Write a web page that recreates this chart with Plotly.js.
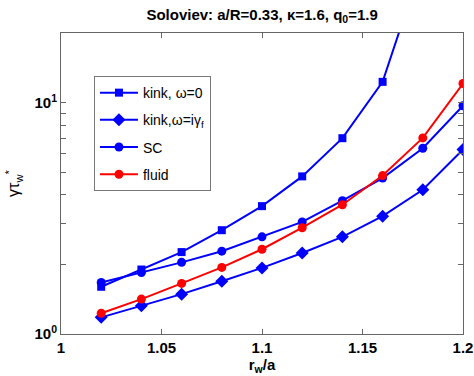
<!DOCTYPE html>
<html>
<head>
<meta charset="utf-8">
<script src="https://cdn.plot.ly/plotly-3.0.1.min.js"></script>
<style>html,body{margin:0;padding:0;background:#fff;}#chart{width:474px;height:376px;}</style>
</head>
<body>
<div id="chart"></div>
<script>
const rw = [1.02, 1.04, 1.06, 1.08, 1.10, 1.12, 1.14, 1.16, 1.18, 1.20];
const kinkW0 = [1.60, 1.90, 2.26, 2.81, 3.57, 4.80, 7.02, 12.3, 41];
const kinkWf = [1.18, 1.325, 1.487, 1.69, 1.93, 2.24, 2.63, 3.23, 4.20, 6.27];
const sc = [1.67, 1.845, 2.04, 2.28, 2.63, 3.05, 3.77, 4.72, 6.35, 9.70];
const fluid = [1.23, 1.415, 1.654, 1.94, 2.325, 2.88, 3.62, 4.84, 7.04, 12.1];
const xTicks = [1, 1.05, 1.1, 1.15, 1.2];
const xTickText = ['1', '1.05', '1.1', '1.15', '1.2'];
const yTicks = [1, 2, 3, 4, 5, 6, 7, 8, 9, 10, 20];
const yTickText = ['10<sup>0</sup>', '', '', '', '', '', '', '', '', '10<sup>1</sup>', ''];

const blue = '#0000ff', red = '#ff0000';
const F = 'Liberation Sans, Arial, Helvetica, sans-serif';

const traces = [
  {x: rw.slice(0, kinkW0.length), y: kinkW0, name: 'kink, ω=0', legendgroup: 'a',
   mode: 'lines+markers', line: {color: blue, width: 2}, marker: {symbol: 'square', size: 8, color: blue}},
  {x: rw, y: kinkWf, name: 'kink,ω=iγ<sub>f</sub>', legendgroup: 'b',
   mode: 'lines+markers', line: {color: blue, width: 2}, marker: {symbol: 'diamond', size: 10, color: blue}},
  {x: rw, y: sc, name: 'SC', legendgroup: 'c',
   mode: 'lines+markers', line: {color: blue, width: 2}, marker: {symbol: 'circle', size: 9, color: blue}},
  {x: rw, y: fluid, name: 'fluid', legendgroup: 'd',
   mode: 'lines+markers', line: {color: red, width: 2}, marker: {symbol: 'circle', size: 9, color: red}}
];

const axisCommon = {
  showline: true, linecolor: '#666', linewidth: 1, mirror: 'ticks',
  ticks: 'inside', ticklen: 5, tickcolor: '#666', showgrid: false, zeroline: false,
  tickfont: {family: F, size: 15, color: '#000', weight: 'bold'}
};

const layout = {
  width: 474, height: 376,
  margin: {l: 61, r: 11, t: 33, b: 42},
  paper_bgcolor: '#fff', plot_bgcolor: '#fff',
  font: {family: F, color: '#000'},
  title: {text: 'Soloviev: a/R=0.33, κ=1.6, q<sub>0</sub>=1.9', x: 0.553, xanchor: 'center', y: 0.962, yanchor: 'middle',
          font: {family: F, size: 15, weight: 'bold', color: '#000'}},
  xaxis: Object.assign({}, axisCommon, {
    range: [1, 1.2], tickvals: xTicks, ticktext: xTickText,
    title: {text: 'r<sub>w</sub>/a', standoff: 1, font: {family: F, size: 15, weight: 'bold'}}
  }),
  yaxis: Object.assign({}, axisCommon, {
    type: 'log', range: [0, Math.log10(20)], tickvals: yTicks, ticktext: yTickText,
    title: {text: 'γτ<sub>w</sub><sup>*</sup>', standoff: 10, font: {family: F, size: 16}}
  }),
  showlegend: true,
  legend: {x: 0.082, y: 0.857, xanchor: 'left', yanchor: 'top', bgcolor: '#fff',
           bordercolor: '#777', borderwidth: 1, tracegroupgap: 6, itemwidth: 38,
           font: {family: F, size: 14, color: '#000'}}
};

Plotly.newPlot('chart', traces, layout, {displayModeBar: false, staticPlot: true});
</script>
</body>
</html>
